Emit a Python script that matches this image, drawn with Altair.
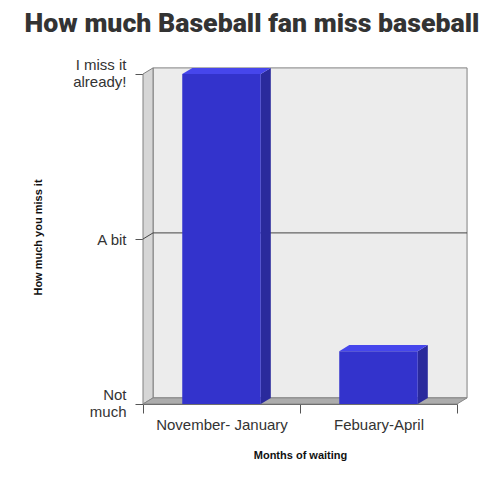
import altair as alt
import pandas as pd

# ---- data ----
categories = ["November- January", "Febuary-April"]
values = [2.0, 0.32]
y_levels = [0, 1, 2]
y_labels = [["Not", "much"], ["A bit"], ["I miss it", "already!"]]
title_text = "How much Baseball fan miss baseball"
x_title = "Months of waiting"
y_title = "How much you miss it"

# ---- style constants ----
DX = 0.064   # 3D depth in x units
DY = 0.037   # 3D depth in y units
BAR_HALF = 0.25
W, H = 314, 330
LINE_H = 17

xs = alt.Scale(domain=[0, len(categories)], nice=False, zero=False)
ys = alt.Scale(domain=[0, 2], nice=False)

def js_val(v):
    if len(v) > 1:
        return "[" + ",".join("'" + s + "'" for s in v) + "]"
    return "'" + v[0] + "'"

x_expr = "''"
for i, c in enumerate(categories):
    x_expr = f"datum.value == {i + 0.5} ? '{c}' : " + x_expr
y_expr = "''"
for lv, lb in zip(y_levels, y_labels):
    y_expr = f"datum.value == {lv} ? {js_val(lb)} : " + y_expr
multi = [lv for lv, lb in zip(y_levels, y_labels) if len(lb) > 1]
multi_test = "indexof([" + ",".join(str(m) for m in multi) + "], datum.value) >= 0"

tick_vals = [i * 0.5 for i in range(2 * len(categories) + 1)]

xaxis = alt.Axis(
    values=tick_vals, labelExpr=x_expr, grid=False,
    tickOpacity={"condition": {"test": "datum.value % 1 != 0", "value": 0}, "value": 1},
    tickSize=9, tickColor="#555", domainColor="#555",
    labelFont="Liberation Sans", labelFontSize=15, labelColor="#333",
    labelPadding=4, labelFlush=False, labelOverlap=False,
    title=x_title, titleFont="Liberation Sans", titleFontSize=11, titleFontWeight="bold",
    titleColor="#111", titleX=W / 2, titleY=51, titleBaseline="middle", titleAlign="center",
)
yaxis = alt.Axis(
    values=y_levels, labelExpr=y_expr, grid=False,
    tickSize=8, tickColor="#555", domainColor="#666",
    labelFont="Liberation Sans", labelFontSize=15, labelColor="#333",
    labelPadding=9, labelAlign="right", labelBaseline="middle", labelLineHeight=LINE_H,
    labelOffset={"condition": {"test": multi_test, "value": -LINE_H / 2 - 1}, "value": 0},
    labelOverlap=False, labelFlush=False,
    title=y_title, titleFont="Liberation Sans", titleFontSize=11, titleFontWeight="bold",
    titleColor="#111", titleX=-105, titleY=H / 2 - 2, titleAngle=270,
    titleAlign="center", titleBaseline="middle",
)

def X(f="x"):
    return alt.X(f"{f}:Q", scale=xs, axis=xaxis)

def Y(f="y"):
    return alt.Y(f"{f}:Q", scale=ys, axis=yaxis)

n = len(categories)
top = max(y_levels)

back = pd.DataFrame([{"x": DX, "x2": n + DX, "y": DY, "y2": top + DY}])
left = pd.DataFrame([{"x": 0, "y": 0, "y2": top}, {"x": DX, "y": DY, "y2": top + DY}])
floor = pd.DataFrame([{"x": 0, "y": 0, "y2": 0}, {"x": DX, "y": 0, "y2": DY},
                      {"x": n, "y": 0, "y2": DY}, {"x": n + DX, "y": DY, "y2": DY}])
grid_back = pd.DataFrame([{"x": DX, "x2": n + DX, "y": lv + DY, "y2": lv + DY}
                          for lv in y_levels[1:-1]])
grid_side = pd.DataFrame([{"x": 0, "x2": DX, "y": lv, "y2": lv + DY}
                          for lv in y_levels[1:-1]])

front_rows, side_rows, top_rows = [], [], []
for i, (c, v) in enumerate(zip(categories, values)):
    l, r = i + 0.5 - BAR_HALF, i + 0.5 + BAR_HALF
    front_rows.append({"cat": c, "x": l, "x2": r, "y": 0, "y2": v})
    side_rows += [{"cat": c, "x": r, "y": 0, "y2": v},
                  {"cat": c, "x": r + DX, "y": DY, "y2": v + DY}]
    top_rows += [{"cat": c, "x": l, "y": v, "y2": v},
                 {"cat": c, "x": l + DX, "y": v, "y2": v + DY},
                 {"cat": c, "x": r, "y": v, "y2": v + DY},
                 {"cat": c, "x": r + DX, "y": v + DY, "y2": v + DY}]

layers = [
    alt.Chart(back).mark_rect(fill="#ececec", stroke="#808080", strokeWidth=1).encode(
        x=X(), x2="x2:Q", y=Y(), y2="y2:Q"),
    alt.Chart(left).mark_area(fill="#d6d6d6", stroke="#808080", strokeWidth=1, orient="vertical").encode(
        x=X(), y=Y(), y2="y2:Q"),
    alt.Chart(floor).mark_area(fill="#acacac", stroke="#888888", strokeWidth=1, orient="vertical").encode(
        x=X(), y=Y(), y2="y2:Q"),
    alt.Chart(grid_back).mark_rule(color="#444", strokeWidth=1).encode(
        x=X(), x2="x2:Q", y=Y(), y2="y2:Q"),
    alt.Chart(grid_side).mark_rule(color="#444", strokeWidth=1).encode(
        x=X(), x2="x2:Q", y=Y(), y2="y2:Q"),
    alt.Chart(pd.DataFrame(side_rows)).mark_area(fill="#2a2a9c", orient="vertical").encode(
        x=X(), y=Y(), y2="y2:Q", detail="cat:N"),
    alt.Chart(pd.DataFrame(top_rows)).mark_area(fill="#4646ec", orient="vertical").encode(
        x=X(), y=Y(), y2="y2:Q", detail="cat:N"),
    alt.Chart(pd.DataFrame(front_rows)).mark_rect(fill="#3333cc").encode(
        x=X(), x2="x2:Q", y=Y(), y2="y2:Q"),
]

chart = alt.layer(*layers).properties(
    width=W, height=H,
    title=alt.TitleParams(
        text=title_text, font="Roboto",
        fontSize=26.7, fontWeight=900, color="#333", anchor="middle",
        baseline="alphabetic", offset=-1, dx=-48),
    autosize=alt.AutoSizeParams(type="none"),
    padding={"left": 135, "top": 66, "right": 30, "bottom": 70},
).configure_view(stroke=None)

chart.save("out.html", embed_options={"renderer": "svg", "actions": False})
